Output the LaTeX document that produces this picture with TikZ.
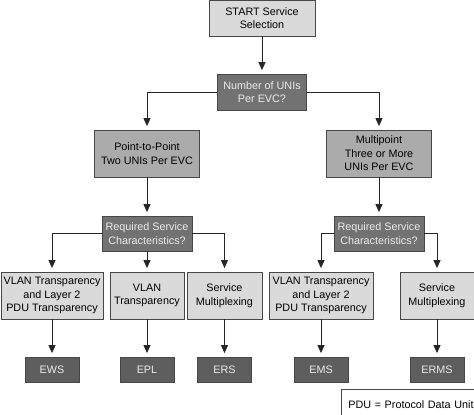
\documentclass[tikz,border=0pt]{standalone}
\usepackage{fontspec}
\setmainfont{Liberation Sans}
\usetikzlibrary{arrows.meta}

\definecolor{boxlight}{HTML}{DADADA}
\definecolor{boxmid}{HTML}{ABABAB}
\definecolor{boxdark}{HTML}{727272}
\definecolor{boxdarker}{HTML}{5E5E5E}
\definecolor{edgegray}{HTML}{474747}
\definecolor{textlight}{HTML}{EBEBEB}

\begin{document}
\begin{tikzpicture}[
  x=1pt, y=-1pt,
  font=\fontsize{10.8}{13.5}\selectfont,
  box/.style={
    draw=edgegray,
    line width=0.8pt,
    align=center,
    inner sep=1pt
  },
  service/.style={box, fill=boxlight, minimum height=47pt},
  branch/.style={box, fill=boxmid, minimum width=105pt, minimum height=47pt},
  query/.style={box, fill=boxdark, text=textlight, minimum width=90pt, minimum height=35pt},
  result/.style={box, fill=boxdarker, text=textlight, minimum width=54pt, minimum height=25pt},
  legend/.style={box, fill=white, minimum width=140pt, minimum height=30pt,
    text width=126pt, align=left, inner xsep=7pt},
  arrow/.style={-{Triangle[length=8pt,width=7pt]}, draw=black!85, line width=0.9pt,
    shorten >=3.5pt}
]
\useasboundingbox (0,0) rectangle (474,415);
\clip (0,0) rectangle (474,415);

% Start and first question
\node[service, minimum width=106pt, minimum height=36pt] (start) at (262,18) {START Service\\Selection};
\node[query, minimum width=89pt, minimum height=36pt] (uni) at (262,92) {Number of UNIs\\Per EVC?};

% EVC types
\node[branch] (p2p) at (147,153.5) {Point-to-Point\\Two UNIs Per EVC};
\node[branch] (mp) at (379,153.5) {Multipoint\\Three or More\\UNIs Per EVC};

% Second questions
\node[query] (reqp) at (147,233.5) {Required Service\\Characteristics?};
\node[query] (reqm) at (379,233.5) {Required Service\\Characteristics?};

% Characteristics
\node[service, minimum width=102pt] (vlanlp) at (52,295.5) {VLAN Transparency\\and Layer 2\\PDU Transparency};
\node[service, minimum width=74pt] (vlanp) at (147,295.5) {VLAN\\Transparency};
\node[service, minimum width=75pt] (muxp) at (224.5,295.5) {Service\\Multiplexing};
\node[service, minimum width=104pt] (vlanlm) at (321,295.5) {VLAN Transparency\\and Layer 2\\PDU Transparency};
\node[service, minimum width=74pt] (muxm) at (437,295.5) {Service\\Multiplexing};

% Services
\node[result] (ews) at (52,369.5) {EWS};
\node[result] (epl) at (147,369.5) {EPL};
\node[result] (ers) at (224.5,369.5) {ERS};
\node[result] (ems) at (321,369.5) {EMS};
\node[result] (erms) at (437,369.5) {ERMS};

% Legend
\node[legend, anchor=north west] (pdu) at (341,389) {PDU = Protocol Data Unit};

% Arrows
\draw[arrow] (start) -- (uni);
\draw[arrow] (uni.west) -| (p2p.north);
\draw[arrow] (uni.east) -| (mp.north);

\draw[arrow] (p2p) -- (reqp);
\draw[arrow] (mp) -- (reqm);

\draw[arrow] (reqp.west) -| (vlanlp.north);
\draw[arrow] (reqp) -- (vlanp);
\draw[arrow] (reqp.east) -| (muxp.north);
\draw[arrow] (reqm.west) -| (vlanlm.north);
\draw[arrow] (reqm.east) -| (muxm.north);

\foreach \from/\to in {vlanlp/ews, vlanp/epl, muxp/ers, vlanlm/ems, muxm/erms}
  \draw[arrow] (\from) -- (\to);

\end{tikzpicture}
\end{document}
